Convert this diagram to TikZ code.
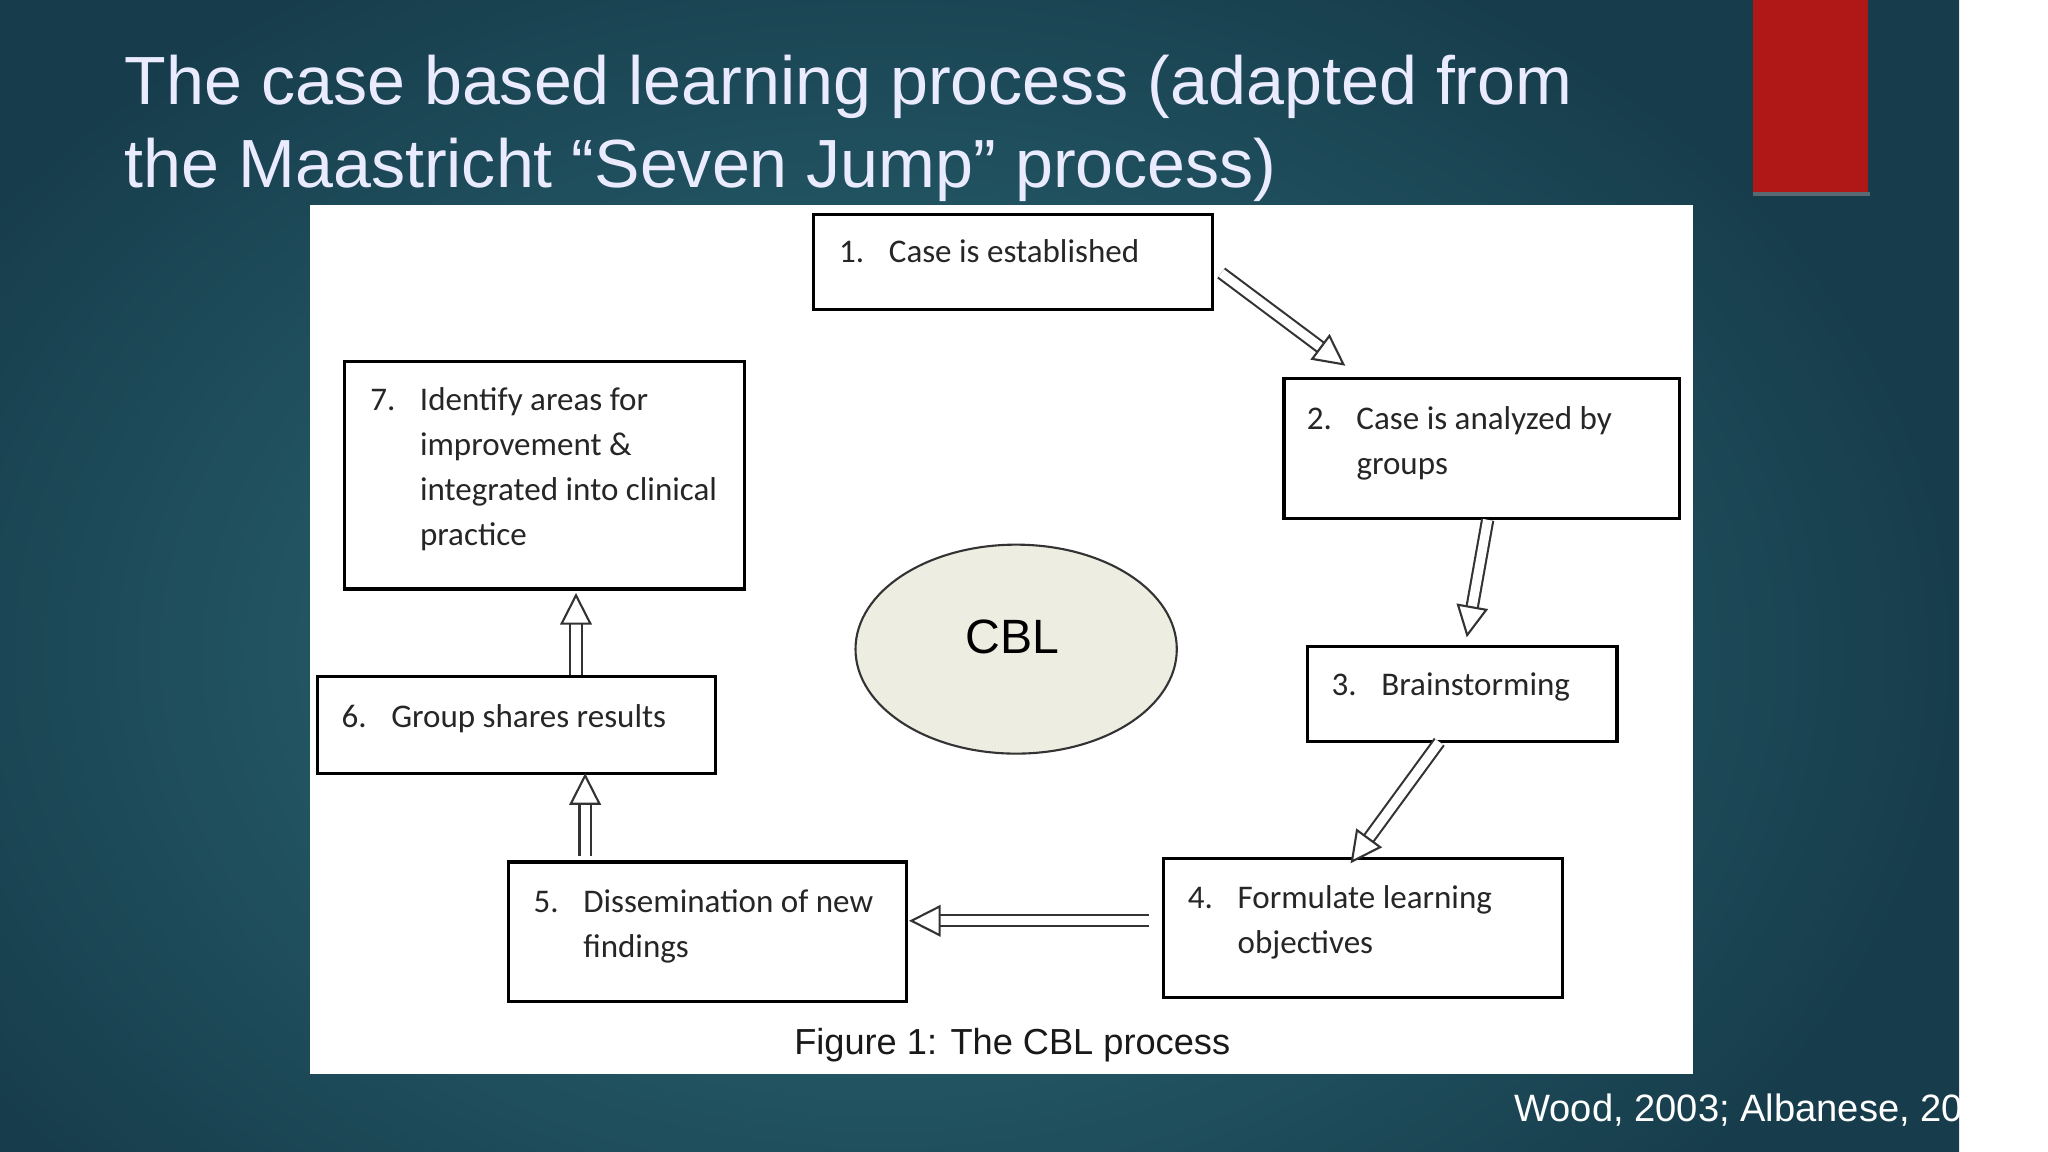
\documentclass[tikz,border=0pt]{standalone}
\usepackage{fontspec}
\setmainfont{Liberation Sans}
\newfontfamily\calib{Carlito}
\usetikzlibrary{arrows.meta,shadings}
\definecolor{bgmid}{HTML}{2E6F7B}
\definecolor{bgedge}{HTML}{173D4C}
\definecolor{redbar}{HTML}{B01818}
\definecolor{cblfill}{HTML}{EEEDE1}
\tikzset{
 stepbox/.style={draw=black,line width=0.9pt,fill=white},
 boxtext/.style={anchor=north west,inner sep=0pt,font=\calib\fontsize{9.4}{12.8}\selectfont,text=black!85},
 hollow/.style={draw=black!80,line width=0.6pt,double=white,double distance=2.6pt,
   -{Triangle[open,length=9pt,width=9pt,fill=white]}}
}
\newcommand{\rows}[1]{\begin{tabular}{@{}l@{\hspace{7pt}}l@{}}#1\end{tabular}}
\begin{document}
\begin{tikzpicture}[x=0.013061cm,y=-0.013061cm]
\useasboundingbox (0,0) rectangle (1568,882);
\begin{scope}
\clip (0,0) rectangle (1568,882);
\shade[inner color=bgmid,outer color=bgedge] (-150,-100) rectangle (1500,1100);
\end{scope}
\fill[redbar] (1342,0) rectangle (1430,147);
\fill[black!40,opacity=0.5] (1342,147) rectangle (1432,150);
\node[anchor=north west,inner sep=0pt,text=white!92!blue,font=\fontsize{19.4}{23.6}\selectfont,align=left] (title) at (95,42)
 {The case based learning process (adapted from\\the Maastricht “Seven Jump” process)};
\fill[white] (237,157) rectangle (1296,822);
\draw[stepbox] (623,164) rectangle (928,237);
\draw[stepbox] (983,290) rectangle (1286,397);
\draw[stepbox] (1001,495) rectangle (1238,568);
\draw[stepbox] (891,657) rectangle (1196,764);
\draw[stepbox] (389,660) rectangle (694,767);
\draw[stepbox] (243,518) rectangle (548,592);
\draw[stepbox] (264,277) rectangle (570,451);
\node[boxtext] (t1) at (642,176) {\rows{1.&Case is established}};
\node[boxtext] (t2) at (1000,304) {\rows{2.&Case is analyzed by\\&groups}};
\node[boxtext] (t3) at (1019,508) {\rows{3.&Brainstorming}};
\node[boxtext] (t4) at (909,671) {\rows{4.&Formulate learning\\&objectives}};
\node[boxtext] (t5) at (408,674) {\rows{5.&Dissemination of new\\&findings}};
\node[boxtext] (t6) at (261,532) {\rows{6.&Group shares results}};
\node[boxtext] (t7) at (283,290) {\rows{7.&Identify areas for\\&improvement \&\\&integrated into clinical\\&practice}};
\draw[black!80,fill=cblfill,line width=0.6pt] (778,497) ellipse [x radius=123,y radius=80];
\node[font=\fontsize{13.7}{16}\selectfont] (cbl) at (775,488) {CBL};
\coordinate (a1s) at (935,209); \coordinate (a1e) at (1030,280);
\coordinate (a2s) at (1139,398); \coordinate (a2e) at (1123,488);
\coordinate (a3s) at (1102,568); \coordinate (a3e) at (1034,661);
\coordinate (a4s) at (880,705); \coordinate (a4e) at (696,705);
\coordinate (a5s) at (448,655); \coordinate (a5e) at (448,592);
\coordinate (a6s) at (441,517); \coordinate (a6e) at (441,454);
\foreach \i in {1,...,6} {\draw[hollow] (a\i s) -- (a\i e);}
\node[font=\fontsize{10.3}{12}\selectfont,text=black!90] (cap) at (775,800) {Figure 1: The CBL process};
\node[anchor=east,inner sep=0pt,text=white,font=\fontsize{10.85}{13}\selectfont] (cite) at (1536,850) {Wood, 2003; Albanese, 2010};
\end{tikzpicture}
\end{document}
